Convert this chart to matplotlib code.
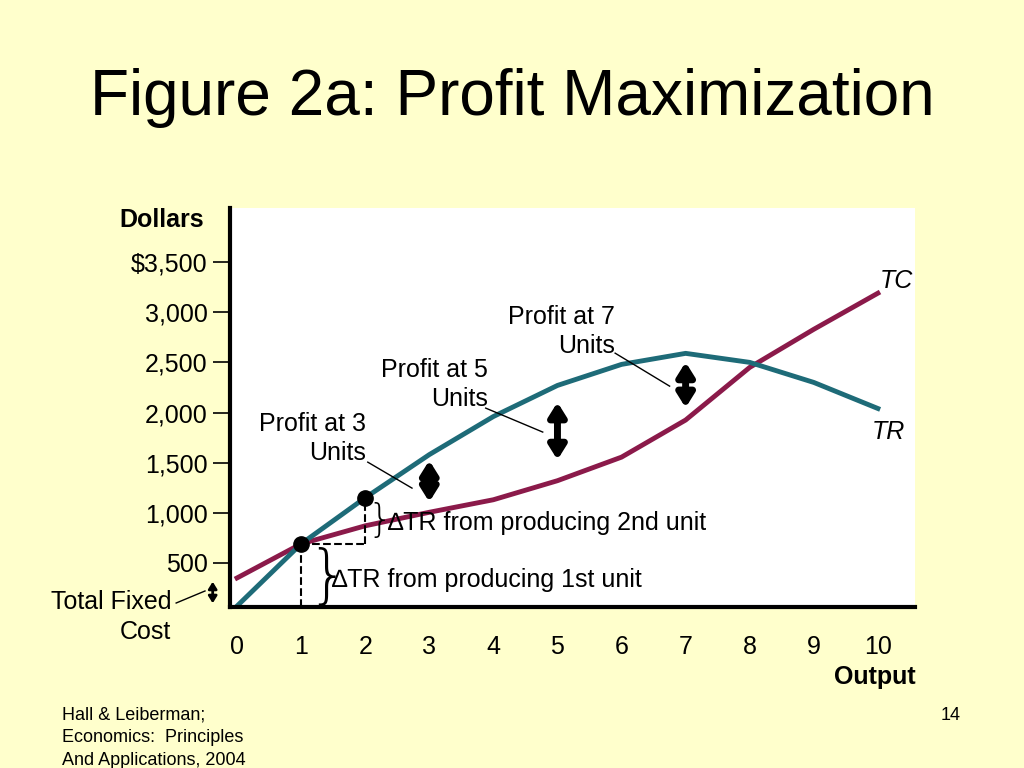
import matplotlib
matplotlib.use("Agg")
import matplotlib.pyplot as plt

output = [0, 1, 2, 3, 4, 5, 6, 7, 8, 9, 10]
tr = [70, 690, 1150, 1580, 1960, 2270, 2480, 2590, 2500, 2300, 2040]
tc = [350, 690, 870, 1005, 1130, 1320, 1555, 1925, 2450, 2830, 3190]
yticks = [500, 1000, 1500, 2000, 2500, 3000, 3500]
ylabels = ["500", "1,000", "1,500", "2,000", "2,500", "3,000", "$3,500"]
profit_q = [3, 5, 7]
profit_lo = [1080, 1500, 2020]
profit_hi = [1550, 2130, 2530]

FS = 18
FF = "Liberation Sans"
bg = "#FFFFCC"
fig = plt.figure(figsize=(10.24, 7.68), dpi=100, facecolor=bg)
ax = fig.add_axes([0.2246, 0.2096, 0.669, 0.5196])
ax.set_facecolor("white")
ax.set_xlim(-0.11, 10.58)
ax.set_ylim(60, 4040)
for s in ["top", "right"]:
    ax.spines[s].set_visible(False)
for s in ["left", "bottom"]:
    ax.spines[s].set_linewidth(3)
ax.set_yticks(yticks)
ax.set_yticklabels(ylabels, fontsize=FS, fontfamily=FF)
ax.set_xticks(output)
ax.set_xticklabels([str(v) for v in output], fontsize=FS, fontfamily=FF)
ax.tick_params(axis="y", length=12, width=1.2, direction="out", pad=4)
ax.tick_params(axis="x", length=0, pad=20)

ax.plot(output, tc, color="#8B1A4A", lw=3.5)
ax.plot(output, tr, color="#1E6B78", lw=3.5)
ax.text(10.03, 3310, "TC", fontsize=FS, style="italic", fontfamily=FF, va="center")
ax.text(9.9, 1805, "TR", fontsize=FS, style="italic", fontfamily=FF, va="center")

for q, lo, hi in zip(profit_q, profit_lo, profit_hi):
    ax.annotate("", xy=(q, hi), xytext=(q, lo),
                arrowprops=dict(arrowstyle="<|-|>,head_width=0.5,head_length=0.8", lw=5, color="black"))

ax.text(2.01, 2004, "Profit at 3\nUnits", fontsize=FS, ha="right", va="top", fontfamily=FF, linespacing=1.25)
ax.plot([2.04, 2.73], [1505, 1246], color="black", lw=1)
ax.text(3.92, 2540, "Profit at 5\nUnits", fontsize=FS, ha="right", va="top", fontfamily=FF, linespacing=1.25)
ax.plot([3.88, 4.77], [2044, 1805], color="black", lw=1)
ax.text(5.9, 3070, "Profit at 7\nUnits", fontsize=FS, ha="right", va="top", fontfamily=FF, linespacing=1.25)
ax.plot([5.9, 6.75], [2592, 2263], color="black", lw=1)

ax.plot([1, 1], [60, tr[1]], "k--", lw=1.5)
ax.plot([1, 2], [tr[1], tr[1]], "k--", lw=1.5)
ax.plot([2, 2], [tr[1], tr[2]], "k--", lw=1.5)
ax.plot([1, 2], [tr[1], tr[2]], "o", color="black", ms=11, zorder=5)
ax.text(2.03, (tr[1] + tr[2]) / 2, "}", fontsize=28, va="center", fontfamily="DejaVu Sans", fontweight="light")
ax.text(2.36, (tr[1] + tr[2]) / 2 - 20, "\u2206TR from producing 2nd unit", fontsize=FS, va="center", fontfamily=FF)
ax.text(1.1, 350, "}", fontsize=46, va="center", fontfamily="DejaVu Sans", fontweight="light")
ax.text(1.48, 330, "\u2206TR from producing 1st unit", fontsize=FS, va="center", fontfamily=FF)

ax.annotate("", xy=(-0.38, 340), xytext=(-0.38, 70), xycoords="data",
            arrowprops=dict(arrowstyle="<|-|>,head_width=0.25,head_length=0.4", lw=2, color="black"),
            annotation_clip=False)
ax.plot([-0.95, -0.5], [100, 220], color="black", lw=1, clip_on=False)
fig.text(0.167, 0.197, "Total Fixed\nCost", fontsize=FS, ha="right", va="center",
         fontfamily=FF, linespacing=1.3)

fig.text(0.199, 0.713, "Dollars", fontsize=FS, fontweight="bold", ha="right", va="center", fontfamily=FF)
fig.text(0.894, 0.118, "Output", fontsize=FS, fontweight="bold", ha="right", va="center", fontfamily=FF)
fig.text(0.5, 0.873, "Figure 2a: Profit Maximization", fontsize=46, ha="center", va="center", fontfamily=FF)
fig.text(0.061, 0.08, "Hall & Leiberman;\nEconomics:  Principles\nAnd Applications, 2004", fontsize=13,
         va="top", fontfamily=FF, linespacing=1.45)
fig.text(0.938, 0.08, "14", fontsize=13, va="top", ha="right", fontfamily=FF)

fig.savefig("out.png", dpi=100, facecolor=bg)
